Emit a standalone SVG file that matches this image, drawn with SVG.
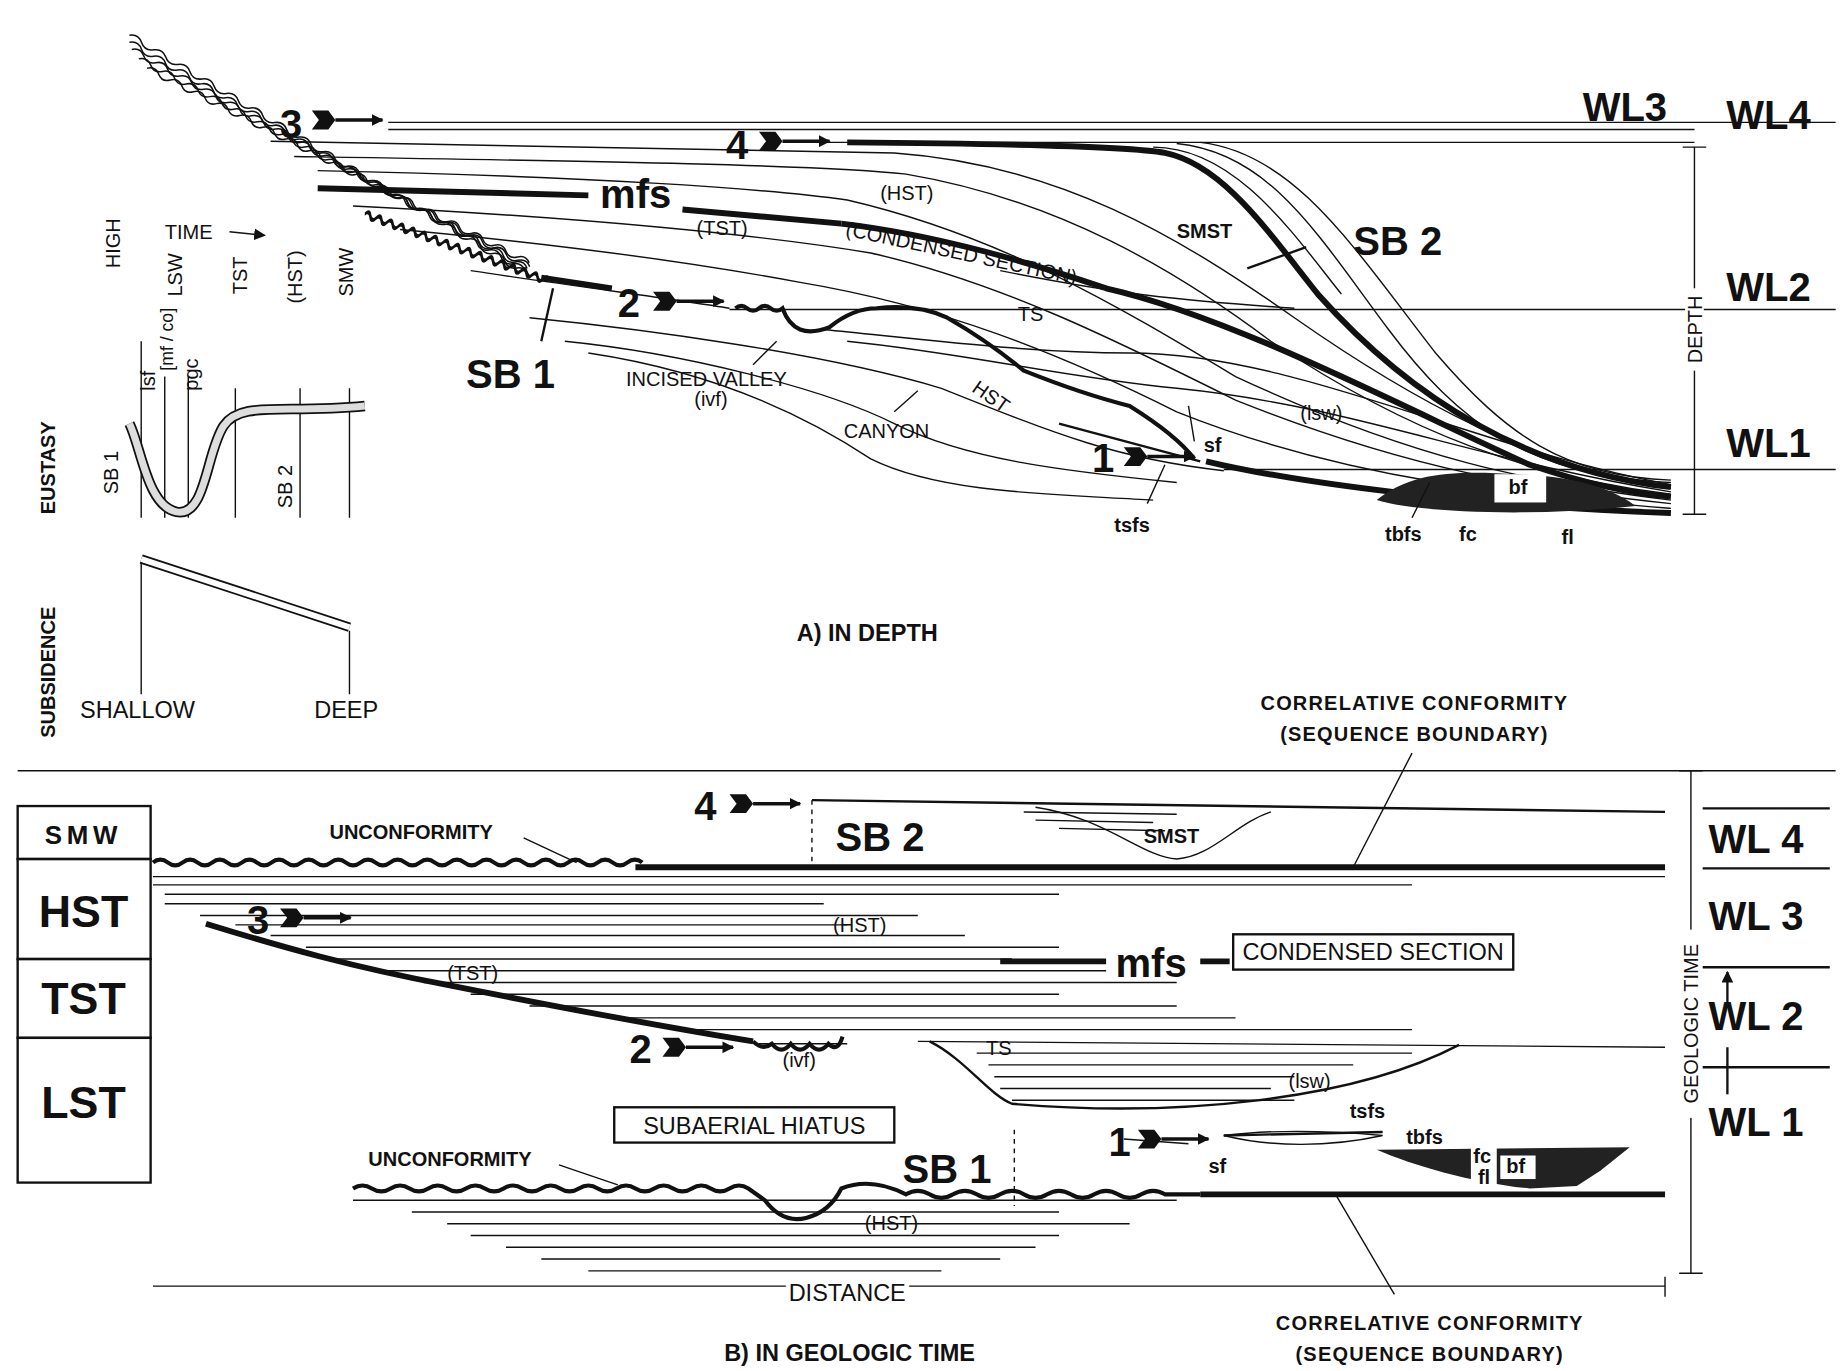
<svg xmlns="http://www.w3.org/2000/svg" width="1845" height="1371" viewBox="0 0 1845 1371">
<style>
.t{fill:none;stroke:#111;stroke-width:1.2}
.m{fill:none;stroke:#111;stroke-width:2}
.k{fill:none;stroke:#111;stroke-width:5}
.w{fill:none;stroke:#111;stroke-width:1.3}
.wk{fill:none;stroke:#111;stroke-width:3.5}
text{font-family:"Liberation Sans",Arial,sans-serif;fill:#111}
.b{font-weight:bold}
.s{font-size:17px}
.l{font-size:34px;font-weight:bold}
.xl{font-size:38px;font-weight:bold}
</style>
<defs>
<marker id="ah" markerWidth="10" markerHeight="10" refX="9" refY="5" orient="auto" markerUnits="userSpaceOnUse"><path d="M0,0 L10,5 L0,10 z" fill="#111"/></marker>
<path id="wv" d="M0,0 q6,-5 12,0 t12,0 t12,0 t12,0 t12,0 t12,0 t12,0 t12,0 t12,0 t12,0 t12,0 t12,0 t12,0 t12,0 t12,0 t12,0 t12,0 t12,0 t12,0 t12,0 t12,0 t12,0 t12,0 t12,0 t12,0 t12,0 t12,0 t12,0 t12,0 t12,0 t12,0 t12,0 t12,0"/>
<g id="arr"><path d="M0,-8 L14,-8 L20,0 L14,8 L0,8 L6,0 z" fill="#111"/><path d="M20,0 L60,0" stroke="#111" stroke-width="3" marker-end="url(#ah)"/></g>
</defs>
<rect width="1845" height="1371" fill="#fff"/>
<g transform="scale(1.1767)">
<!-- PART A -->
<g id="slopeA">
<use href="#wv" class="w" transform="translate(110,30) rotate(31)"/>
<use href="#wv" class="w" transform="translate(110,36) rotate(30) scale(0.98,1)"/>
<use href="#wv" class="w" transform="translate(112,42) rotate(29) scale(0.97,1)"/>
<use href="#wv" class="w" transform="translate(118,50) rotate(28) scale(0.95,1)"/>
<use href="#wv" class="w" transform="translate(125,58) rotate(27) scale(0.92,1)"/>
<use href="#wv" class="wk" transform="translate(310,182) rotate(20) scale(0.42,1)"/>
<path class="k" d="M460,236 L520,245"/>
</g>
<g id="connectors">
<path class="t" d="M330,104 L1560,104 M330,110 L1440,110 M700,121 L1440,121"/>
<path class="t" d="M620,263 L1560,263 M1040,399 L1560,399"/>
<path class="t" d="M1440,125 L1440,437 M1430,125 L1450,125 M1430,437 L1450,437"/>
<path class="t" d="M230,120 C500,125 700,128 760,130 C900,140 1000,200 1100,270 C1200,340 1300,395 1420,415"/>
<path class="t" d="M250,133 C500,137 700,140 770,148 C900,170 1000,230 1080,290 C1200,370 1300,405 1420,420"/>
<path class="t" d="M270,145 C500,150 650,160 720,170 C850,200 950,260 1050,320 C1200,390 1300,410 1420,425"/>
<path class="t" d="M300,175 C500,185 650,200 740,215 C850,240 950,290 1050,340 C1200,400 1300,415 1420,428"/>
<path class="t" d="M340,195 C500,210 600,225 680,240 C800,260 900,300 1000,350 C1150,410 1300,422 1420,432"/>
<path class="t" d="M400,230 C500,245 580,255 620,262"/>
<path class="t" d="M450,270 C550,280 700,300 800,330 C900,370 950,390 1040,400"/>
<path class="t" d="M480,290 C580,300 700,330 760,360 C820,390 900,400 1000,410"/>
<path class="t" d="M500,300 C600,315 680,350 740,390 C800,420 900,420 980,425"/>
<path class="t" d="M700,280 C800,290 880,300 960,300 C1100,300 1250,380 1420,412"/>
<path class="t" d="M720,290 C820,300 900,320 1000,330 C1150,345 1250,390 1420,418"/>
<path class="t" d="M850,230 C950,250 1000,255 1100,262"/>
<path class="t" d="M980,125 C1050,125 1100,200 1140,250"/>
<path class="t" d="M1000,122 C1080,130 1120,200 1180,280 C1240,360 1300,405 1420,410"/>
<path class="t" d="M1020,121 C1100,130 1150,210 1220,300 C1280,370 1330,405 1420,408"/>
<path class="k" d="M270,160 L500,166 M580,178 L715,190"/>
<path class="k" d="M715,190 C800,200 880,225 940,245 C1050,270 1200,350 1300,395 C1350,412 1390,420 1420,422"/>
<path class="k" d="M720,121 C850,122 960,124 990,130 C1040,140 1080,200 1120,250 C1200,340 1300,400 1420,414"/>
<path class="wk" d="M625,262 q5,-4 10,0 t10,0 t10,0 t10,0 Q675,290 705,278 Q725,262 745,262 Q780,258 805,270 Q840,290 870,315 Q920,335 960,345 Q1000,370 1015,390"/>
<path class="k" d="M1025,392 C1100,410 1250,430 1420,436"/>
<path class="m" d="M900,360 L1020,392"/>
<path d="M1170,425 C1200,400 1240,400 1290,403 C1340,405 1370,415 1390,430 C1300,440 1200,435 1170,425 z" fill="#222"/>
<rect x="1270" y="403" width="44" height="24" fill="#fff"/>
<path class="m" d="M470,245 L460,290"/>
<path class="t" d="M660,290 L640,310"/>
<path class="t" d="M780,332 L760,350"/>
<path class="t" d="M990,395 L975,428"/>
<path class="m" d="M1110,210 L1060,228"/>
<path class="t" d="M1010,345 L1015,375"/>
<path class="t" d="M1215,410 L1200,440"/>
</g>
<g id="labelsA">
<use href="#arr" transform="translate(265,102)"/><text x="238" y="117" class="l">3</text>
<use href="#arr" transform="translate(645,120)"/><text x="617" y="135" class="l">4</text>
<use href="#arr" transform="translate(555,256)"/><text x="525" y="269" class="l">2</text>
<use href="#arr" transform="translate(955,388)"/><text x="928" y="401" class="l">1</text>
<text x="1345" y="103" class="l">WL3</text><text x="1467" y="110" class="l">WL4</text>
<text x="1467" y="256" class="l">WL2</text><text x="1467" y="388" class="l">WL1</text>
<text x="1150" y="217" class="l">SB 2</text>
<text x="396" y="330" class="l">SB 1</text>
<text x="510" y="177" class="l">mfs</text>
<text x="748" y="170" class="s">(HST)</text>
<text x="592" y="200" class="s">(TST)</text>
<text x="718" y="200" class="s" transform="rotate(12 718 200)">(CONDENSED SECTION)</text>
<text x="1000" y="202" class="s b">SMST</text>
<text x="865" y="273" class="s">TS</text>
<text x="825" y="332" class="s" transform="rotate(35 825 332)">HST</text>
<text x="1105" y="357" class="s">(lsw)</text>
<text x="532" y="328" class="s">INCISED VALLEY</text>
<text x="590" y="345" class="s">(ivf)</text>
<text x="717" y="372" class="s">CANYON</text>
<text x="1023" y="384" class="s b">sf</text>
<text x="947" y="452" class="s b">tsfs</text>
<text x="1177" y="460" class="s b">tbfs</text>
<text x="1240" y="460" class="s b">fc</text>
<text x="1282" y="420" class="s b">bf</text>
<text x="1327" y="462" class="s b">fl</text>
<rect x="1432" y="245" width="16" height="70" fill="#fff"/>
<text x="1446" y="280" class="s" transform="rotate(-90 1446 280)" text-anchor="middle">DEPTH</text>
<text x="737" y="545" font-size="20" class="b" text-anchor="middle">A)  IN DEPTH</text>
</g>
<g id="eustasy">
<text x="140" y="203" class="s">TIME</text><path class="t" d="M195,197 L225,200" marker-end="url(#ah)"/>
<text x="102" y="228" class="s" transform="rotate(-90 102 228)">HIGH</text>
<text x="155" y="252" class="s" transform="rotate(-90 155 252)">LSW</text>
<text x="210" y="250" class="s" transform="rotate(-90 210 250)">TST</text>
<text x="257" y="258" class="s" transform="rotate(-90 257 258)">(HST)</text>
<text x="300" y="252" class="s" transform="rotate(-90 300 252)">SMW</text>
<text x="147" y="315" font-size="15" transform="rotate(-90 147 315)">[mf / co]</text>
<text x="132" y="332" class="s" transform="rotate(-90 132 332)">lsf</text>
<text x="168" y="332" class="s" transform="rotate(-90 168 332)">pgc</text>
<text x="100" y="420" class="s" transform="rotate(-90 100 420)">SB 1</text>
<text x="248" y="432" class="s" transform="rotate(-90 248 432)">SB 2</text>
<text x="47" y="437" class="s b" transform="rotate(-90 47 437)">EUSTASY</text>
<text x="47" y="627" class="s b" transform="rotate(-90 47 627)">SUBSIDENCE</text>
<path class="t" d="M120,290 L120,440 M140,320 L140,440 M160,320 L160,440 M200,330 L200,440 M255,330 L255,440 M297,330 L297,440"/>
<path fill="none" stroke="#111" stroke-width="9" d="M110,360 C120,380 125,430 150,435 C175,440 175,385 190,362 C205,340 240,352 310,345"/>
<path fill="none" stroke="#ddd" stroke-width="6" d="M110,360 C120,380 125,430 150,435 C175,440 175,385 190,362 C205,340 240,352 310,345"/>
<path fill="none" stroke="#111" stroke-width="8" d="M120,475 L297,533"/>
<path fill="none" stroke="#fff" stroke-width="5" d="M120,475 L297,533"/>
<path class="t" d="M120,478 L120,590 M297,536 L297,590"/>
<text x="68" y="610" font-size="20">SHALLOW</text>
<text x="267" y="610" font-size="20">DEEP</text>
</g>
<!-- PART B -->
<g id="B">
<path class="t" d="M15,655 L1560,655"/>
<rect x="15" y="685" width="113" height="45" class="m"/>
<rect x="15" y="730" width="113" height="85" class="m"/>
<rect x="15" y="815" width="113" height="67" class="m"/>
<rect x="15" y="882" width="113" height="123" class="m"/>
<text x="71" y="717" font-size="22" class="b" text-anchor="middle" letter-spacing="4">SMW</text>
<text x="71" y="788" class="xl" text-anchor="middle">HST</text>
<text x="71" y="862" class="xl" text-anchor="middle">TST</text>
<text x="71" y="950" class="xl" text-anchor="middle">LST</text>
<path class="t" d="M1437,655 L1437,1082 M1427,655 L1447,655 M1427,1082 L1447,1082"/>
<rect x="1429" y="790" width="16" height="160" fill="#fff"/>
<text x="1443" y="870" class="s" transform="rotate(-90 1443 870)" text-anchor="middle">GEOLOGIC TIME</text>
<path class="m" d="M1447,687 L1555,687 M1447,738 L1555,738 M1447,822 L1555,822 M1447,907 L1555,907"/>
<path class="m" d="M1468,855 L1468,826" marker-end="url(#ah)"/>
<path class="m" d="M1468,890 L1468,930"/>
<text x="1452" y="725" class="l">WL 4</text>
<text x="1452" y="790" class="l">WL 3</text>
<text x="1452" y="875" class="l">WL 2</text>
<text x="1452" y="965" class="l">WL 1</text>
<path class="t" d="M130,1093 L1415,1093 M1415,1085 L1415,1102"/>
<text x="720" y="1106" font-size="20" text-anchor="middle" fill="#111" style="paint-order:stroke" stroke="#fff" stroke-width="8">DISTANCE</text>
<path class="m" d="M690,680 L1415,690"/>
<path class="t" d="M880,686 C940,695 970,728 1000,730 C1030,728 1050,700 1080,690"/>
<path class="t" d="M870,690 L1000,692 M880,697 L980,699 M900,704 L990,706"/>
<path class="t" stroke-dasharray="4,4" d="M690,680 L690,733"/>
<use href="#wv" class="wk" transform="translate(130,733) scale(1.05,1)"/>
<path class="k" d="M540,737 L1415,737"/>
<path class="t" d="M130,745 L1415,745 M130,752 L1200,752 M140,760 L900,760 M140,768 L700,768 M170,778 L780,778 M200,786 L720,786"/>
<path class="t" d="M230,795 L820,795 M260,805 L900,805 M280,815 L860,815 M320,825 L940,825 M360,835 L1000,835 M400,845 L900,845 M450,855 L1000,855 M520,865 L1050,865 M580,875 L1200,875 M780,885 L1415,890"/>
<path class="t" d="M830,895 L1200,895 M840,905 L1150,905 M845,915 L1100,915 M850,925 L1080,925 M860,935 L1100,935"/>
<path class="t" d="M300,1020 L1000,1020 M350,1030 L900,1030 M380,1040 L960,1040 M400,1050 L900,1050 M430,1060 L880,1060 M460,1070 L850,1070 M500,1080 L800,1080"/>
<path class="k" d="M175,785 C240,805 300,822 380,837 C480,857 560,872 640,885"/>
<path class="k" d="M850,817 L940,817 M1020,817 L1045,817"/>
<path class="wk" d="M640,885 q8,8 16,2 q8,10 16,0 q8,10 16,0 q8,10 16,0 q8,8 12,-6"/>
<path class="t" d="M645,887 L720,887"/>
<path class="m" d="M790,885 C820,900 840,930 860,938 C1000,950 1150,935 1240,888"/>
<path class="t" d="M1040,965 C1080,975 1130,975 1175,965 C1120,960 1080,960 1040,965 z"/>
<path class="m" d="M1040,965 L1175,962"/>
<path class="t" d="M955,968 L1010,972"/>
<path class="wk" d="M300,1010 q8,-5 16,0 t16,0 t16,0 t16,0 t16,0 t16,0 t16,0 t16,0 t16,0 t16,0 t16,0 t16,0 t16,0 t16,0 t16,0 t16,0 t16,0 t16,0 t16,0 t16,0 t16,0 L650,1020 Q665,1040 685,1035 Q705,1030 715,1010 Q740,1000 770,1015 q10,-6 20,0 t20,0 t20,0 t20,0 t20,0 t20,0 t20,0 t20,0 t20,0 t20,0 t20,0 L1020,1015"/>
<path class="k" d="M1020,1015 L1415,1015"/>
<path d="M1170,977 L1385,975 L1360,995 L1340,1008 L1300,1010 C1250,1005 1200,990 1170,977 z" fill="#222"/>
<rect x="1250" y="975" width="22" height="34" fill="#fff"/><rect x="1275" y="982" width="30" height="20" fill="#fff"/>
<path class="t" stroke-dasharray="4,4" d="M862,960 L862,1025"/>
<rect x="522" y="941" width="238" height="30" class="m"/>
<text x="641" y="964" font-size="20" text-anchor="middle">SUBAERIAL HIATUS</text>
<rect x="1048" y="794" width="238" height="30" class="m"/>
<text x="1167" y="816" font-size="20" text-anchor="middle">CONDENSED SECTION</text>
<path class="t" d="M445,712 L490,733"/>
<path class="t" d="M475,990 L525,1007"/>
<path class="t" d="M1200,640 L1150,737"/>
<path class="t" d="M1135,1015 L1185,1100"/>
</g>
<g id="labelsB">
<use href="#arr" transform="translate(620,683)"/><text x="590" y="697" class="l">4</text>
<use href="#arr" transform="translate(238,780)"/><text x="210" y="794" class="l">3</text>
<use href="#arr" transform="translate(563,890)"/><text x="535" y="903" class="l">2</text>
<use href="#arr" transform="translate(967,968)"/><text x="942" y="982" class="l">1</text>
<text x="710" y="723" class="l">SB 2</text>
<text x="767" y="1005" class="l">SB 1</text>
<text x="948" y="830" class="l">mfs</text>
<text x="972" y="716" class="s b">SMST</text>
<text x="708" y="792" class="s">(HST)</text>
<text x="380" y="833" class="s">(TST)</text>
<text x="838" y="897" class="s">TS</text>
<text x="1095" y="925" class="s">(lsw)</text>
<text x="665" y="907" class="s">(ivf)</text>
<text x="735" y="1045" class="s">(HST)</text>
<text x="1147" y="950" class="s b">tsfs</text>
<text x="1195" y="972" class="s b">tbfs</text>
<text x="1027" y="997" class="s b">sf</text>
<text x="1252" y="988" class="s b">fc</text>
<text x="1256" y="1006" class="s b">fl</text>
<text x="1280" y="997" class="s b">bf</text>
<text x="280" y="713" font-size="17" class="b">UNCONFORMITY</text>
<text x="313" y="991" font-size="17" class="b">UNCONFORMITY</text>
<text x="1202" y="603" font-size="17" class="b" text-anchor="middle" letter-spacing="1">CORRELATIVE CONFORMITY</text>
<text x="1202" y="630" font-size="17" class="b" text-anchor="middle" letter-spacing="1">(SEQUENCE BOUNDARY)</text>
<text x="1215" y="1130" font-size="17" class="b" text-anchor="middle" letter-spacing="1">CORRELATIVE CONFORMITY</text>
<text x="1215" y="1157" font-size="17" class="b" text-anchor="middle" letter-spacing="1">(SEQUENCE BOUNDARY)</text>
<text x="722" y="1157" font-size="20" class="b" text-anchor="middle">B)  IN GEOLOGIC TIME</text>
</g>
</g>
</svg>
